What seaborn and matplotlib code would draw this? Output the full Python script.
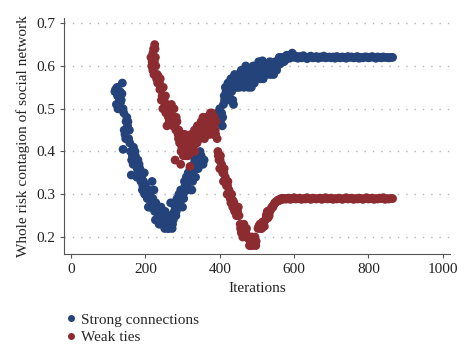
import matplotlib
import numpy as np
import pandas as pd

matplotlib.use("Agg")
import matplotlib.pyplot as plt
import seaborn as sns
from matplotlib.lines import Line2D

# strong connections (blue)
strong_x = [
    120, 122, 125, 128, 130, 132, 135, 138, 140, 142, 145, 148, 150, 152, 155, 157, 140, 162,
    165, 168, 170, 172, 175, 178, 180, 182, 185, 188, 190, 192, 195, 198, 200, 205, 208, 210,
    212, 215, 218, 220, 222, 225, 228, 230, 232, 235, 238, 240, 242, 245, 248, 250, 252, 255,
    258, 260, 262, 265, 268, 270, 272, 275, 278, 280, 282, 285, 288, 290, 292, 295, 298, 300,
    302, 305, 308, 310, 312, 315, 318, 320, 322, 325, 328, 330, 332, 335, 338, 340, 342, 345,
    348, 350, 352, 395, 398, 400, 402, 405, 408, 410, 412, 415, 418, 420, 422, 425, 428, 430,
    432, 435, 438, 440, 442, 445, 448, 450, 452, 455, 458, 460, 462, 465, 468, 470, 472, 475,
    478, 480, 482, 485, 488, 490, 492, 495, 498, 500, 502, 505, 508, 510, 512, 515, 518, 520,
    525, 530, 535, 540, 545, 550, 555, 560, 565, 570, 575, 580, 585, 590, 595, 600, 605, 610,
    615, 620, 625, 630, 635, 640, 645, 650, 655, 660, 665, 670, 675, 680, 685, 690, 695, 700,
    705, 710, 715, 720, 725, 730, 735, 740, 745, 750, 755, 760, 765, 770, 775, 780, 785, 790,
    795, 800, 805, 810, 815, 820, 825, 830, 835, 840, 845, 850, 855, 860, 865,
]
strong_y = [
    0.545, 0.51, 0.53, 0.50, 0.52, 0.54, 0.52, 0.56, 0.50, 0.49, 0.44, 0.47, 0.48, 0.46, 0.43, 0.45, 0.405, 0.345,
    0.39, 0.41, 0.38, 0.40, 0.37, 0.36, 0.38, 0.35, 0.36, 0.33, 0.34, 0.31, 0.33, 0.30, 0.32, 0.29, 0.27, 0.31,
    0.30, 0.28, 0.33, 0.29, 0.27, 0.26, 0.28, 0.24, 0.27, 0.25, 0.26, 0.24, 0.27, 0.23, 0.25, 0.24, 0.22, 0.23,
    0.25, 0.22, 0.24, 0.23, 0.28, 0.25, 0.22, 0.24, 0.26, 0.27, 0.25, 0.29, 0.27, 0.30, 0.28, 0.31, 0.29, 0.27,
    0.30, 0.33, 0.31, 0.34, 0.32, 0.35, 0.33, 0.36, 0.34, 0.31, 0.35, 0.37, 0.36, 0.34, 0.39, 0.37, 0.36, 0.38,
    0.37, 0.39, 0.38, 0.49, 0.48, 0.50, 0.47, 0.49, 0.48, 0.51, 0.53, 0.55, 0.52, 0.54, 0.56, 0.53, 0.55, 0.57,
    0.54, 0.52, 0.55, 0.58, 0.56, 0.57, 0.55, 0.58, 0.56, 0.57, 0.59, 0.56, 0.58, 0.55, 0.57, 0.60, 0.58, 0.56,
    0.59, 0.57, 0.58, 0.55, 0.59, 0.60, 0.58, 0.59, 0.57, 0.60, 0.58, 0.61, 0.59, 0.57, 0.59, 0.612, 0.60, 0.58,
    0.60, 0.59, 0.61, 0.60, 0.58, 0.61, 0.60, 0.62, 0.61, 0.615, 0.62, 0.625, 0.62, 0.625, 0.63, 0.62, 0.623, 0.618,
    0.622, 0.619, 0.624, 0.62, 0.617, 0.621, 0.623, 0.619, 0.62, 0.622, 0.618, 0.621, 0.62, 0.623, 0.619, 0.62, 0.621, 0.619,
    0.621, 0.618, 0.622, 0.62, 0.619, 0.621, 0.62, 0.618, 0.622, 0.62, 0.621, 0.619, 0.62, 0.622, 0.618, 0.62, 0.619, 0.621,
    0.621, 0.619, 0.62, 0.622, 0.62, 0.618, 0.621, 0.62, 0.619, 0.621, 0.62, 0.62, 0.619, 0.62, 0.62,
]
# more blue points that fill the thicker parts of the cloud
strong_x2 = [
    118, 124, 126, 133, 137, 143, 147, 153, 158, 160, 163, 167, 173, 177, 183, 187, 193, 197,
    203, 207, 213, 217, 223, 227, 233, 237, 243, 247, 253, 257, 263, 267, 273, 277, 283, 287,
    293, 297, 303, 307, 313, 317, 323, 327, 333, 337, 343, 347, 355, 358, 392, 397, 403, 407,
    413, 417, 423, 427, 433, 437, 443, 447, 453, 457, 463, 467, 473, 477, 483, 487, 493, 497,
    503, 507, 513, 517, 523, 527, 533, 537, 543, 547, 553, 557, 563, 567, 573, 578, 583, 588,
    593, 598,
]
strong_y2 = [
    0.54, 0.55, 0.50, 0.515, 0.535, 0.45, 0.43, 0.47, 0.42, 0.40, 0.38, 0.37, 0.39, 0.34, 0.37, 0.34, 0.32, 0.35,
    0.31, 0.30, 0.27, 0.29, 0.31, 0.24, 0.26, 0.23, 0.25, 0.24, 0.26, 0.23, 0.22, 0.25, 0.23, 0.28, 0.26, 0.28,
    0.29, 0.30, 0.29, 0.32, 0.31, 0.34, 0.35, 0.33, 0.38, 0.36, 0.39, 0.40, 0.37, 0.38, 0.48, 0.47, 0.49, 0.46,
    0.52, 0.54, 0.55, 0.52, 0.56, 0.51, 0.55, 0.57, 0.55, 0.56, 0.57, 0.56, 0.57, 0.55, 0.57, 0.58, 0.56, 0.59,
    0.59, 0.58, 0.60, 0.57, 0.59, 0.58, 0.60, 0.58, 0.59, 0.60, 0.59, 0.61, 0.605, 0.62, 0.61, 0.615, 0.62, 0.618,
    0.622, 0.625,
]

# weak ties (red)
weak_x = [
    215, 218, 220, 222, 225, 227, 220, 223, 228, 230, 232, 235, 238, 240, 242, 245, 248, 250,
    252, 255, 258, 260, 262, 265, 268, 270, 272, 275, 278, 280, 282, 285, 288, 290, 292, 295,
    298, 300, 302, 305, 308, 310, 312, 315, 318, 320, 322, 325, 328, 330, 332, 335, 338, 340,
    342, 345, 348, 350, 352, 355, 358, 360, 362, 365, 368, 370, 372, 375, 378, 380, 382, 385,
    388, 390, 258, 280, 295, 320, 302, 395, 398, 400, 402, 405, 408, 410, 412, 415, 418, 420,
    422, 425, 428, 430, 432, 435, 438, 440, 442, 445, 448, 450, 455, 458, 460, 462, 465, 468,
    470, 480, 482, 485, 488, 490, 492, 495, 498, 505, 508, 510, 512, 515, 520, 525, 528, 530,
    532, 535, 540, 545, 548, 550, 555, 560, 565, 570, 575, 580, 585, 590, 595, 600, 605, 610,
    615, 620, 625, 630, 635, 640, 645, 650, 655, 660, 665, 670, 675, 680, 685, 690, 695, 700,
    705, 710, 715, 720, 725, 730, 735, 740, 745, 750, 755, 760, 765, 770, 775, 780, 785, 790,
    795, 800, 805, 810, 815, 820, 825, 830, 835, 840, 845, 850, 855, 860, 865,
]
weak_y = [
    0.62, 0.61, 0.63, 0.64, 0.65, 0.62, 0.59, 0.58, 0.60, 0.57, 0.58, 0.575, 0.56, 0.57, 0.545, 0.53, 0.55, 0.52,
    0.50, 0.49, 0.51, 0.50, 0.48, 0.505, 0.49, 0.51, 0.47, 0.50, 0.48, 0.46, 0.45, 0.47, 0.44, 0.45, 0.42, 0.43,
    0.41, 0.44, 0.42, 0.43, 0.40, 0.42, 0.41, 0.39, 0.43, 0.41, 0.42, 0.40, 0.44, 0.43, 0.45, 0.42, 0.44, 0.46,
    0.43, 0.45, 0.44, 0.47, 0.46, 0.48, 0.45, 0.47, 0.46, 0.44, 0.48, 0.46, 0.45, 0.49, 0.47, 0.46, 0.44, 0.48,
    0.45, 0.47, 0.46, 0.38, 0.37, 0.365, 0.39, 0.40, 0.38, 0.36, 0.39, 0.37, 0.35, 0.33, 0.36, 0.34, 0.32, 0.30,
    0.33, 0.31, 0.29, 0.28, 0.30, 0.27, 0.28, 0.26, 0.27, 0.25, 0.26, 0.27, 0.23, 0.21, 0.22, 0.20, 0.23, 0.22,
    0.21, 0.18, 0.20, 0.19, 0.18, 0.195, 0.185, 0.20, 0.19, 0.225, 0.23, 0.22, 0.23, 0.235, 0.225, 0.25, 0.26, 0.245,
    0.255, 0.26, 0.27, 0.275, 0.28, 0.28, 0.285, 0.285, 0.29, 0.288, 0.29, 0.289, 0.291, 0.288, 0.29, 0.292, 0.289, 0.29,
    0.291, 0.288, 0.29, 0.289, 0.292, 0.29, 0.288, 0.291, 0.29, 0.289, 0.29, 0.291, 0.288, 0.29, 0.292, 0.289, 0.29, 0.291,
    0.288, 0.29, 0.289, 0.291, 0.29, 0.288, 0.29, 0.292, 0.289, 0.29, 0.291, 0.288, 0.29, 0.289, 0.291, 0.29, 0.288, 0.29,
    0.292, 0.289, 0.29, 0.291, 0.288, 0.29, 0.289, 0.291, 0.29, 0.292, 0.288, 0.29, 0.289, 0.29, 0.29,
]
# more red points for the dense blob and the dip
weak_x2 = [
    217, 221, 224, 226, 229, 233, 236, 239, 243, 247, 251, 254, 257, 261, 264, 267, 271, 274,
    277, 283, 286, 289, 293, 296, 299, 303, 306, 309, 313, 316, 319, 323, 326, 329, 333, 336,
    339, 343, 346, 349, 353, 356, 359, 363, 366, 369, 373, 376, 379, 383, 386, 389, 393, 396,
    401, 406, 411, 416, 421, 426, 431, 436, 441, 446, 452, 456, 461, 466, 472, 478, 483, 487,
    493, 497, 503, 507, 513, 518, 523, 527, 533, 538, 543, 552, 558, 563, 568, 573, 578,
]
weak_y2 = [
    0.60, 0.62, 0.61, 0.64, 0.58, 0.56, 0.57, 0.545, 0.52, 0.50, 0.515, 0.53, 0.50, 0.49, 0.47, 0.50, 0.48, 0.46,
    0.50, 0.48, 0.45, 0.43, 0.44, 0.40, 0.42, 0.41, 0.44, 0.39, 0.43, 0.41, 0.40, 0.44, 0.42, 0.41, 0.40, 0.43,
    0.42, 0.46, 0.43, 0.45, 0.44, 0.46, 0.43, 0.48, 0.45, 0.47, 0.44, 0.46, 0.49, 0.46, 0.47, 0.44, 0.43, 0.39,
    0.38, 0.36, 0.35, 0.33, 0.32, 0.30, 0.29, 0.285, 0.27, 0.265, 0.25, 0.22, 0.21, 0.21, 0.22, 0.195, 0.18, 0.20,
    0.19, 0.18, 0.22, 0.225, 0.22, 0.23, 0.24, 0.255, 0.25, 0.265, 0.27, 0.283, 0.287, 0.288, 0.29, 0.29, 0.289,
]

series_names = ["Strong connections", "Weak ties"]
colors = ["#24437a", "#8c2c31"]
y_ticks = [0.2, 0.3, 0.4, 0.5, 0.6, 0.7]
x_ticks = [0, 200, 400, 600, 800, 1000]

df = pd.concat([
    pd.DataFrame({"iter": strong_x + strong_x2, "risk": strong_y + strong_y2, "type": series_names[0]}),
    pd.DataFrame({"iter": weak_x + weak_x2, "risk": weak_y + weak_y2, "type": series_names[1]}),
])

sns.set_style("white")
plt.rcParams["font.family"] = ["Liberation Serif", "DejaVu Serif"]

fig = plt.figure(figsize=(4.74, 3.61), dpi=100)
ax = fig.add_axes([0.135, 0.296, 0.814, 0.654])

sns.scatterplot(data=df, x="iter", y="risk", hue="type", palette=colors,
                s=40, linewidth=0, alpha=1, legend=False, ax=ax)

ax.set_xlim(-19, 1019)
ax.set_ylim(0.16, 0.712)
ax.set_xticks(x_ticks)
ax.set_yticks(y_ticks)
ax.set_yticklabels([f"{v:.1f}" for v in y_ticks])
for v in y_ticks:
    ax.axhline(v, color="#b5b5b5", lw=1.0, ls=(0, (1, 5)), zorder=0)

for side in ["top", "right"]:
    ax.spines[side].set_visible(False)
for side in ["left", "bottom"]:
    ax.spines[side].set_color("#555555")
    ax.spines[side].set_linewidth(0.8)
ax.tick_params(axis="both", labelsize=11, length=3, width=0.8, color="#555555",
               direction="out", left=True, bottom=True, colors="#222222")
ax.set_xlabel("Iterations", fontsize=11, color="#222222")
ax.set_ylabel("Whole risk contagion of social network", fontsize=11, color="#222222")

handles = [Line2D([], [], marker="o", ls="", color=c, markersize=4) for c in colors]
fig.legend(handles, series_names, loc="upper left", bbox_to_anchor=(0.12, 0.15),
           frameon=False, fontsize=11, handletextpad=0.2, labelspacing=0.25,
           borderaxespad=0, handlelength=1.0)

fig.savefig("out.png", dpi=100)
